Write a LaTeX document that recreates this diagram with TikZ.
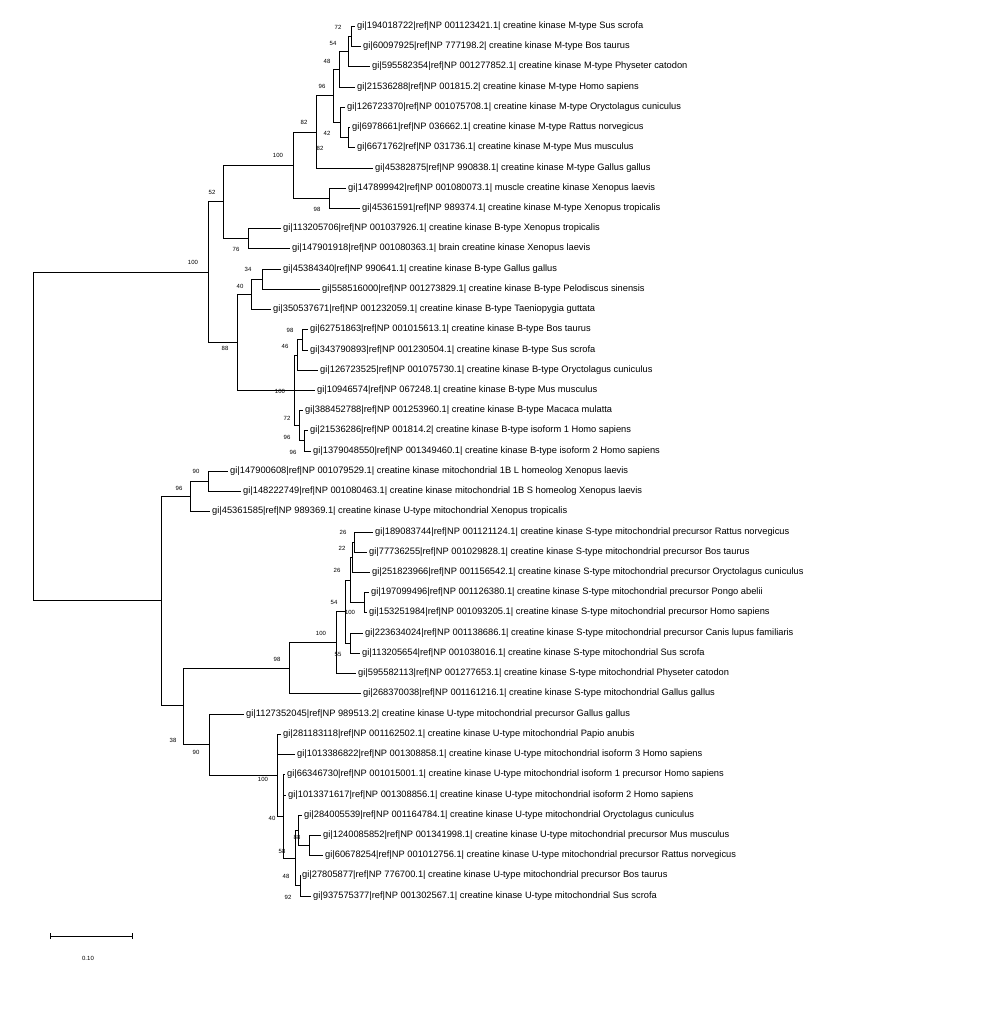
\documentclass[tikz,border=0pt]{standalone}
\usepackage{fontspec}
\setmainfont{Liberation Sans}
\begin{document}
\begin{tikzpicture}[x=1pt,y=-1pt,
  leaf/.style={anchor=west,inner sep=2pt,font=\fontsize{9.3}{10}\selectfont},
  bs/.style={inner sep=0pt,font=\fontsize{6}{7}\selectfont},
  br/.style={line width=0.9pt}]
\useasboundingbox (0,0) rectangle (990,1024);
% internal nodes
\coordinate (root) at (33,436);
\coordinate (top) at (208,272);
\coordinate (L) at (161,600);
\coordinate (n52) at (223,201.5);
\coordinate (n88) at (237,342);
\coordinate (n100a) at (293,165);
\coordinate (n76) at (248,238);
\coordinate (n82) at (316,132);
\coordinate (n98) at (329,198);
\coordinate (n96) at (333,95.5);
\coordinate (n1234) at (339,69);
\coordinate (n567) at (340,122);
\coordinate (n123) at (348,51);
\coordinate (n12) at (351,36);
\coordinate (n67) at (348,137);
\coordinate (n40) at (251,294);
\coordinate (n34) at (262,279);
\coordinate (n100B) at (294,390);
\coordinate (n46) at (297,355);
\coordinate (n98b) at (302,339.5);
\coordinate (n96a) at (299,425);
\coordinate (n96b) at (304,440.5);
\coordinate (n96x) at (190,496);
\coordinate (n90) at (208,481);
\coordinate (n38) at (183,705);
\coordinate (n98s) at (289,668);
\coordinate (n100s) at (336,642);
\coordinate (n54) at (345,611);
\coordinate (n26b) at (350,580);
\coordinate (n55) at (350,643);
\coordinate (n22) at (352,557);
\coordinate (n26a) at (354,542);
\coordinate (n100p) at (364,602);
\coordinate (n90u) at (209,744);
\coordinate (n100u) at (277,775);
\coordinate (n40u) at (283,816);
\coordinate (nB) at (295,858);
\coordinate (nC) at (298,830);
\coordinate (n88u) at (309,845);
\coordinate (n48) at (300,885.5);
% leaves
\node[leaf] (l1) at (355,26) {gi|194018722|ref|NP 001123421.1| creatine kinase M-type Sus scrofa};
\node[leaf] (l2) at (361,46) {gi|60097925|ref|NP 777198.2| creatine kinase M-type Bos taurus};
\node[leaf] (l3) at (370,66) {gi|595582354|ref|NP 001277852.1| creatine kinase M-type Physeter catodon};
\node[leaf] (l4) at (355,87) {gi|21536288|ref|NP 001815.2| creatine kinase M-type Homo sapiens};
\node[leaf] (l5) at (345,107) {gi|126723370|ref|NP 001075708.1| creatine kinase M-type Oryctolagus cuniculus};
\node[leaf] (l6) at (350,127) {gi|6978661|ref|NP 036662.1| creatine kinase M-type Rattus norvegicus};
\node[leaf] (l7) at (355,147) {gi|6671762|ref|NP 031736.1| creatine kinase M-type Mus musculus};
\node[leaf] (l8) at (373,168) {gi|45382875|ref|NP 990838.1| creatine kinase M-type Gallus gallus};
\node[leaf] (l9) at (346,188) {gi|147899942|ref|NP 001080073.1| muscle creatine kinase Xenopus laevis};
\node[leaf] (l10) at (360,208) {gi|45361591|ref|NP 989374.1| creatine kinase M-type Xenopus tropicalis};
\node[leaf] (l11) at (281,228) {gi|113205706|ref|NP 001037926.1| creatine kinase B-type Xenopus tropicalis};
\node[leaf] (l12) at (290,248) {gi|147901918|ref|NP 001080363.1| brain creatine kinase Xenopus laevis};
\node[leaf] (l13) at (281,269) {gi|45384340|ref|NP 990641.1| creatine kinase B-type Gallus gallus};
\node[leaf] (l14) at (320,289) {gi|558516000|ref|NP 001273829.1| creatine kinase B-type Pelodiscus sinensis};
\node[leaf] (l15) at (271,309) {gi|350537671|ref|NP 001232059.1| creatine kinase B-type Taeniopygia guttata};
\node[leaf] (l16) at (308,329) {gi|62751863|ref|NP 001015613.1| creatine kinase B-type Bos taurus};
\node[leaf] (l17) at (308,350) {gi|343790893|ref|NP 001230504.1| creatine kinase B-type Sus scrofa};
\node[leaf] (l18) at (318,370) {gi|126723525|ref|NP 001075730.1| creatine kinase B-type Oryctolagus cuniculus};
\node[leaf] (l19) at (315,390) {gi|10946574|ref|NP 067248.1| creatine kinase B-type Mus musculus};
\node[leaf] (l20) at (303,410) {gi|388452788|ref|NP 001253960.1| creatine kinase B-type Macaca mulatta};
\node[leaf] (l21) at (308,430) {gi|21536286|ref|NP 001814.2| creatine kinase B-type isoform 1 Homo sapiens};
\node[leaf] (l22) at (311,451) {gi|1379048550|ref|NP 001349460.1| creatine kinase B-type isoform 2 Homo sapiens};
\node[leaf] (l23) at (228,471) {gi|147900608|ref|NP 001079529.1| creatine kinase mitochondrial 1B L homeolog Xenopus laevis};
\node[leaf] (l24) at (241,491) {gi|148222749|ref|NP 001080463.1| creatine kinase mitochondrial 1B S homeolog Xenopus laevis};
\node[leaf] (l25) at (210,511) {gi|45361585|ref|NP 989369.1| creatine kinase U-type mitochondrial Xenopus tropicalis};
\node[leaf] (l26) at (373,532) {gi|189083744|ref|NP 001121124.1| creatine kinase S-type mitochondrial precursor Rattus norvegicus};
\node[leaf] (l27) at (367,552) {gi|77736255|ref|NP 001029828.1| creatine kinase S-type mitochondrial precursor Bos taurus};
\node[leaf] (l28) at (370,572) {gi|251823966|ref|NP 001156542.1| creatine kinase S-type mitochondrial precursor Oryctolagus cuniculus};
\node[leaf] (l29) at (369,592) {gi|197099496|ref|NP 001126380.1| creatine kinase S-type mitochondrial precursor Pongo abelii};
\node[leaf] (l30) at (367,612) {gi|153251984|ref|NP 001093205.1| creatine kinase S-type mitochondrial precursor Homo sapiens};
\node[leaf] (l31) at (363,633) {gi|223634024|ref|NP 001138686.1| creatine kinase S-type mitochondrial precursor Canis lupus familiaris};
\node[leaf] (l32) at (360,653) {gi|113205654|ref|NP 001038016.1| creatine kinase S-type mitochondrial Sus scrofa};
\node[leaf] (l33) at (356,673) {gi|595582113|ref|NP 001277653.1| creatine kinase S-type mitochondrial Physeter catodon};
\node[leaf] (l34) at (361,693) {gi|268370038|ref|NP 001161216.1| creatine kinase S-type mitochondrial Gallus gallus};
\node[leaf] (l35) at (244,714) {gi|1127352045|ref|NP 989513.2| creatine kinase U-type mitochondrial precursor Gallus gallus};
\node[leaf] (l36) at (281,734) {gi|281183118|ref|NP 001162502.1| creatine kinase U-type mitochondrial Papio anubis};
\node[leaf] (l37) at (295,754) {gi|1013386822|ref|NP 001308858.1| creatine kinase U-type mitochondrial isoform 3 Homo sapiens};
\node[leaf] (l38) at (285,774) {gi|66346730|ref|NP 001015001.1| creatine kinase U-type mitochondrial isoform 1 precursor Homo sapiens};
\node[leaf] (l39) at (286,795) {gi|1013371617|ref|NP 001308856.1| creatine kinase U-type mitochondrial isoform 2 Homo sapiens};
\node[leaf] (l40) at (302,815) {gi|284005539|ref|NP 001164784.1| creatine kinase U-type mitochondrial Oryctolagus cuniculus};
\node[leaf] (l41) at (321,835) {gi|1240085852|ref|NP 001341998.1| creatine kinase U-type mitochondrial precursor Mus musculus};
\node[leaf] (l42) at (323,855) {gi|60678254|ref|NP 001012756.1| creatine kinase U-type mitochondrial precursor Rattus norvegicus};
\node[leaf] (l43) at (300,875) {gi|27805877|ref|NP 776700.1| creatine kinase U-type mitochondrial precursor Bos taurus};
\node[leaf] (l44) at (311,896) {gi|937575377|ref|NP 001302567.1| creatine kinase U-type mitochondrial Sus scrofa};
% branches
\foreach \p/\c in {root/top,root/L,top/n52,top/n88,n52/n100a,n52/n76,n100a/n82,n100a/n98,
  n82/n96,n96/n1234,n96/n567,n1234/n123,n123/n12,n567/n67,n88/n40,n88/n100B,n40/n34,
  n100B/n46,n100B/n96a,n46/n98b,n96a/n96b,L/n96x,L/n38,n96x/n90,n38/n98s,n38/n90u,
  n98s/n100s,n100s/n54,n54/n26b,n54/n55,n26b/n22,n26b/n100p,n22/n26a,n90u/n100u,
  n100u/n40u,n40u/nB,nB/nC,nB/n48,nC/n88u}
  \draw[br] (\p) |- (\c);
\foreach \p/\c in {n12/l1,n12/l2,n123/l3,n1234/l4,n567/l5,n67/l6,n67/l7,n82/l8,n98/l9,n98/l10,
  n76/l11,n76/l12,n34/l13,n34/l14,n40/l15,n98b/l16,n98b/l17,n46/l18,n100B/l19,n96a/l20,
  n96b/l21,n96b/l22,n90/l23,n90/l24,n96x/l25,n26a/l26,n26a/l27,n22/l28,n100p/l29,n100p/l30,
  n55/l31,n55/l32,n100s/l33,n98s/l34,n90u/l35,n100u/l36,n100u/l37,n40u/l38,n40u/l39,
  nC/l40,n88u/l41,n88u/l42,n48/l43,n48/l44}
  \draw[br] (\p) |- (\c.west);
% bootstrap values
\foreach \x/\y/\t [count=\i] in {338/27/72,333/43/54,327/61/48,322/86/96,304/122/82,327/133/42,
  320/148/82,278/155/100,317/209/98,212/192/52,236/249/76,193/262/100,248/269/34,240/286/40,
  225/348/88,290/330/98,285/346/46,280/391/100,287/418/72,287/437/96,293/452/96,196/471/90,
  179/488/96,343/532/26,342/548/22,337/570/26,334/602/54,350/612/100,321/633/100,338/654/55,
  277/659/98,173/740/38,196/752/90,263/779/100,272/818/40,297/837/88,282/851/58,286/876/48,
  288/897/92}
  \node[bs] (b\i) at (\x,\y) {\t};
% scale bar
\coordinate (s1) at (50,936);
\coordinate (s2) at (132,936);
\draw[line width=0.8pt] (s1) -- (s2);
\draw[line width=0.8pt] ([yshift=-3]s1) -- ([yshift=3]s1);
\draw[line width=0.8pt] ([yshift=-3]s2) -- ([yshift=3]s2);
\node[bs] (sl) at (88,958) {0.10};
\end{tikzpicture}
\end{document}
